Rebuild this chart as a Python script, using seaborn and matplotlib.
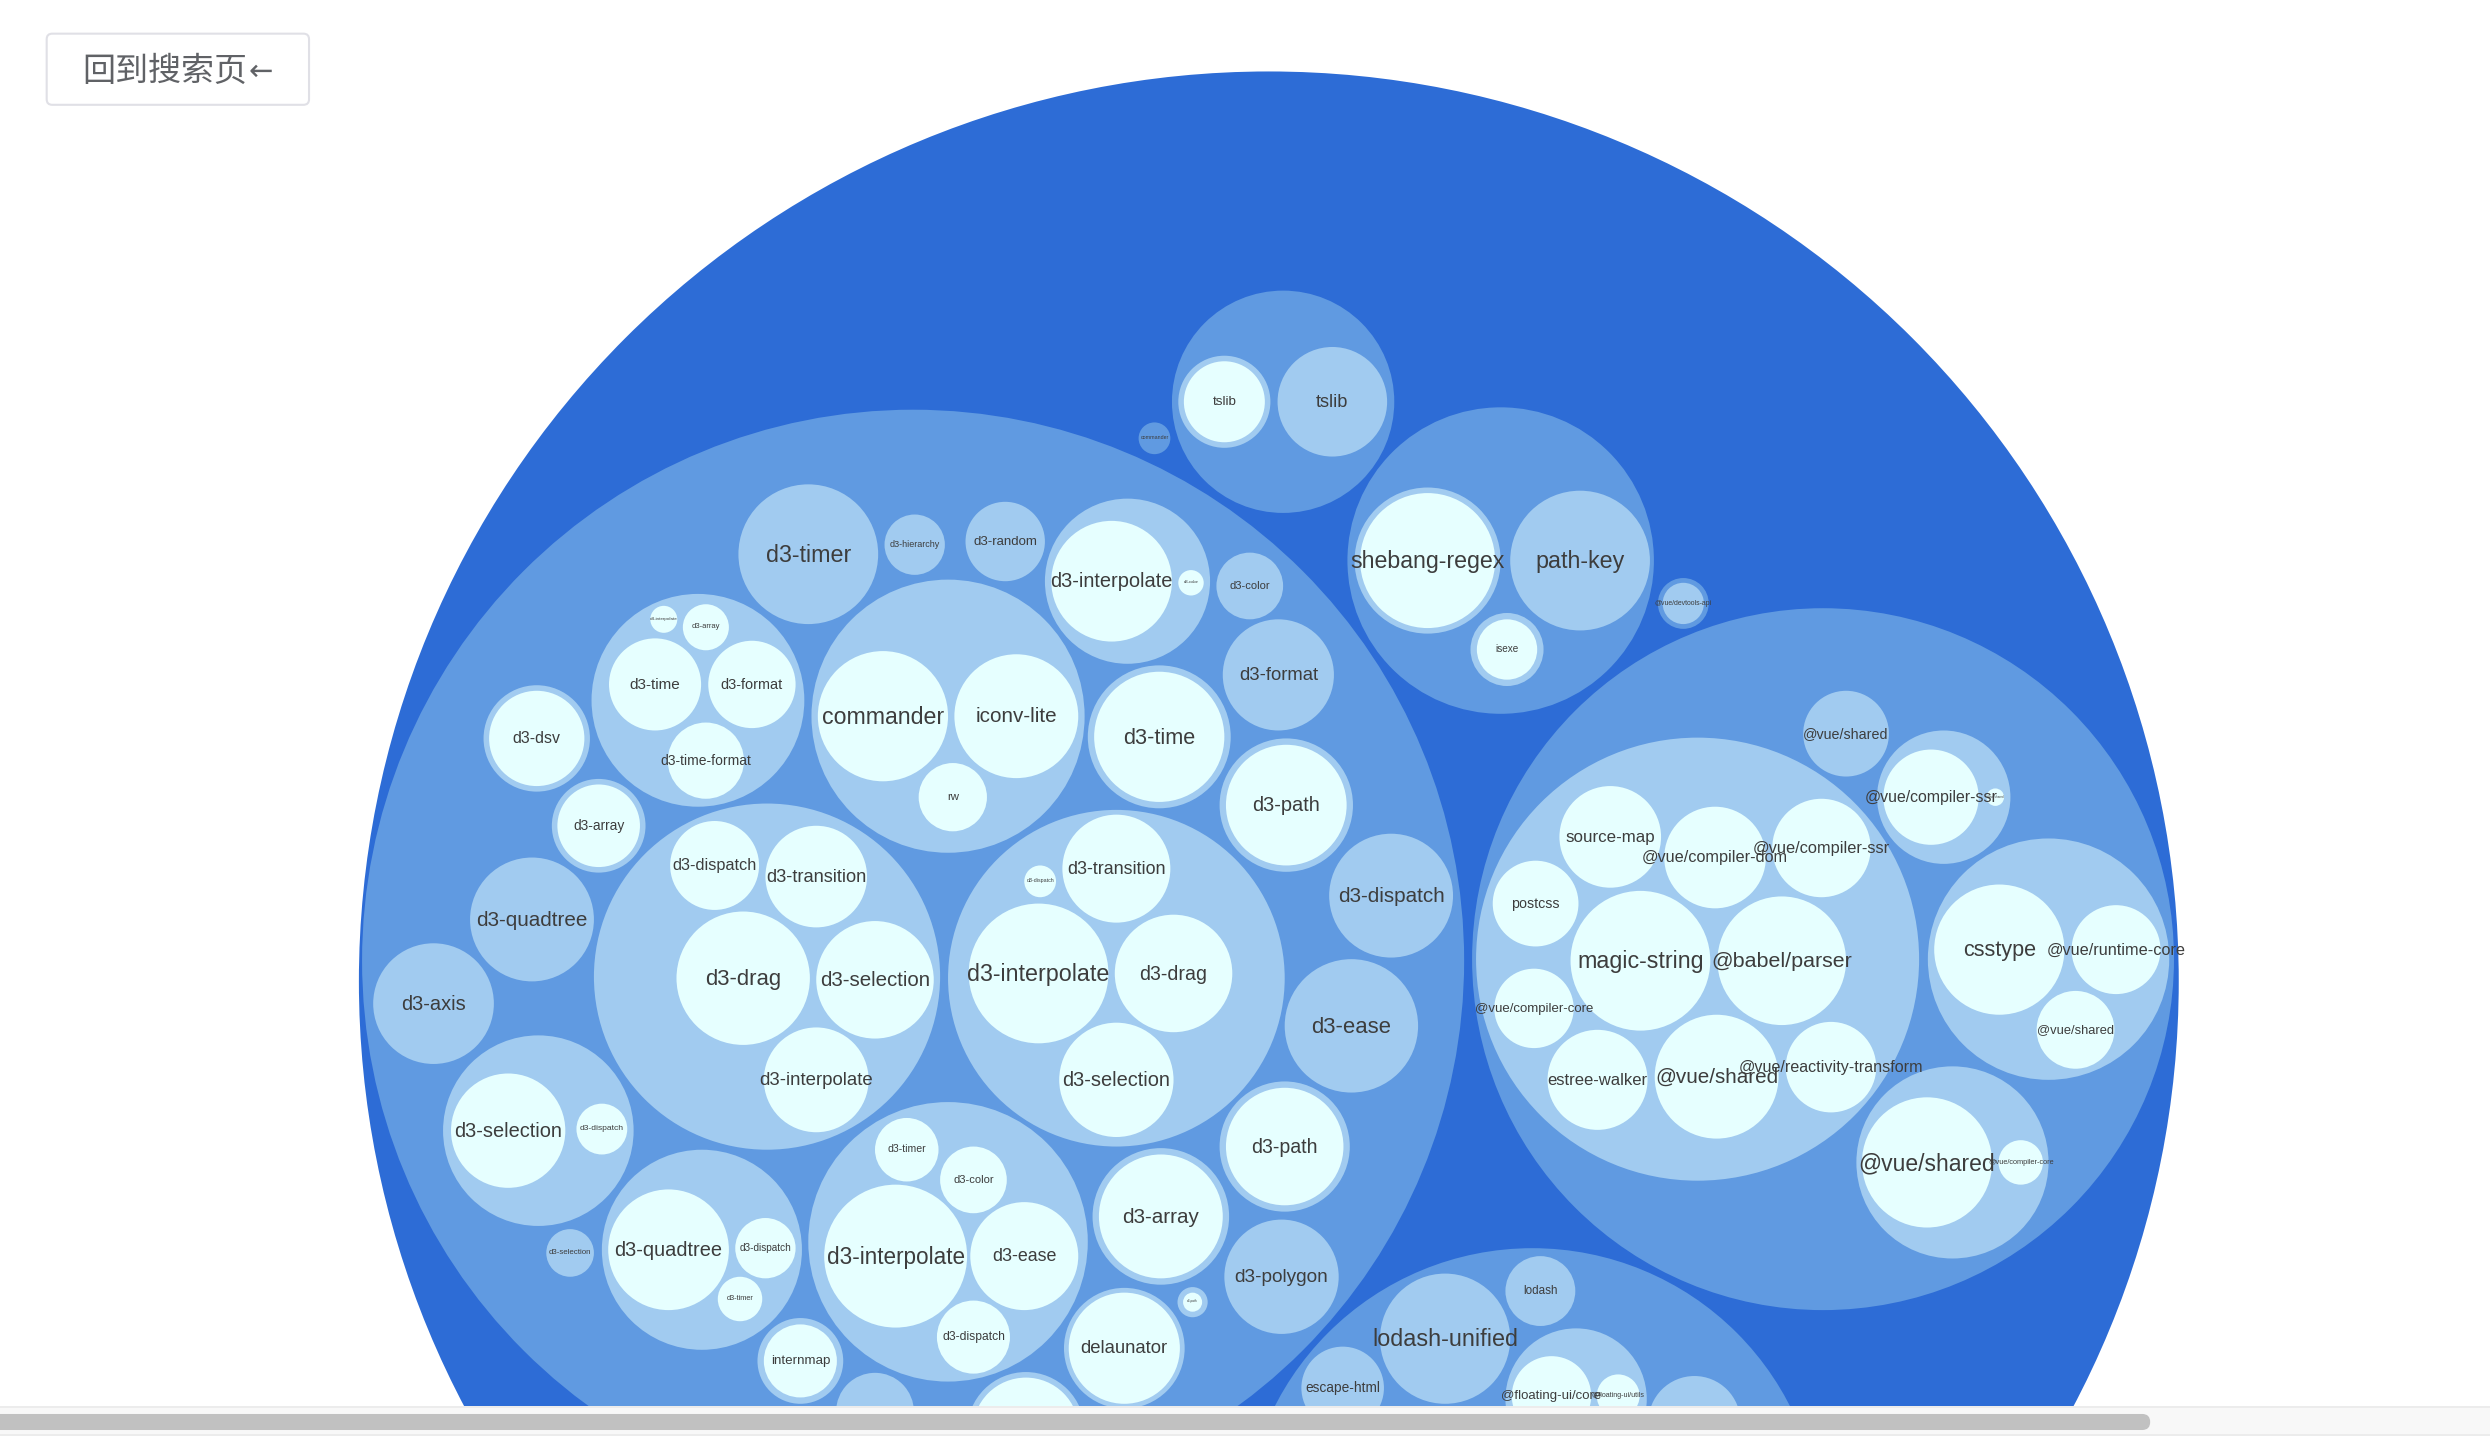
import pandas as pd
import matplotlib.pyplot as plt
from matplotlib.patches import FancyBboxPatch, Rectangle
import seaborn as sns

# reference pixels per unit of the coordinates below
PX = 2490 / 1568
W, H = 1568, 1436 / PX

sns.set_theme(style="white")
plt.rcParams['font.family'] = ['Liberation Sans', 'DejaVu Sans']

# ----- circle pack nodes ----- #
# an empty name is a circle with no label of its own
node_names = [
    "",
    "", "", "", "", "", "",
    "tslib", "", "tslib",
    "shebang-regex", "", "path-key", "isexe", "",
    "@vue/devtools-api",
    "d3-timer", "d3-hierarchy", "d3-random", "", "d3-interpolate", "d3-color",
    "d3-color", "d3-format", "d3-time", "", "d3-path", "",
    "d3-dispatch", "d3-ease", "d3-path", "", "d3-polygon", "d3-array", "",
    "d3-path", "", "delaunator", "", "", "", "internmap", "", "d3-shape",
    "", "d3-interpolate", "d3-ease", "d3-timer", "d3-color", "d3-dispatch",
    "", "d3-quadtree", "d3-dispatch", "d3-timer",
    "d3-selection",
    "", "d3-selection", "d3-dispatch",
    "d3-axis", "d3-quadtree", "d3-array", "", "d3-dsv", "",
    "", "d3-interpolate", "d3-array", "d3-time", "d3-format", "d3-time-format",
    "", "commander", "iconv-lite", "rw",
    "", "d3-drag", "d3-selection", "d3-dispatch", "d3-transition", "d3-interpolate",
    "", "d3-interpolate", "d3-drag", "d3-transition", "d3-selection", "d3-dispatch",
    "", "magic-string", "@babel/parser", "source-map", "@vue/compiler-dom",
    "@vue/compiler-ssr", "postcss", "@vue/compiler-core", "estree-walker",
    "@vue/shared", "@vue/reactivity-transform",
    "", "csstype", "@vue/runtime-core", "@vue/shared",
    "", "@vue/shared", "@vue/compiler-core",
    "", "@vue/compiler-ssr", "@vue/shared", "@vue/shared",
    "lodash-unified", "lodash", "escape-html", "", "@floating-ui/core",
    "@floating-ui/utils", "",
    "commander",
]
node_x = [
    799,
    575, 808, 945, 1148, 965, 1060,
    771, 771, 839,
    899, 899, 995, 949, 949,
    1060,
    509, 576, 633, 710, 700, 750,
    787, 805, 730, 730, 810, 810,
    876, 851, 809, 809, 807, 731, 731,
    751, 751, 708, 708, 646, 646, 504, 504, 551,
    597, 564, 645, 571, 613, 613,
    442, 421, 482, 466,
    359,
    339, 320, 379,
    273, 335, 377, 377, 338, 338,
    439.5, 418, 444.5, 412.5, 473.5, 444.5,
    597, 556, 640, 600,
    483, 468, 551, 450, 514, 514,
    703, 654, 739, 703, 703, 655,
    1069, 1033, 1122, 1014, 1080,
    1147, 967, 966, 1006,
    1081, 1153,
    1290, 1259, 1332.5, 1307,
    1229.5, 1213.5, 1272.5,
    1224, 1216, 1256.5, 1162.5,
    910, 970, 845.5, 992.5, 977,
    1019, 1067,
    727,
]
node_y = [
    618,
    605, 253, 353, 604, 968, 380,
    253, 253, 253,
    353, 353, 353, 409, 409,
    380,
    349, 343, 341, 366, 366, 367,
    369, 425, 464, 464, 507, 507,
    564, 646, 722, 722, 804, 766, 766,
    820, 820, 849, 849, 901, 901, 857, 857, 889,
    782, 791, 791, 724, 743, 842,
    787, 787, 786, 818,
    789,
    712, 712, 711,
    632, 579, 520, 520, 465, 465,
    441, 390, 395, 431, 431, 479,
    451, 451, 451, 502,
    615, 616, 617, 545, 552, 680,
    616, 613, 613, 547, 680, 555,
    604, 605, 605, 527, 540,
    534, 569, 635, 680,
    678, 672,
    604, 598, 598, 648.5,
    732, 732, 732,
    502, 502, 502, 462,
    843, 813, 874, 881, 879,
    879, 895.5,
    276,
]
node_r = [
    573,
    347, 70, 96.5, 221, 182, 16,
    25.5, 29, 34.5,
    42.5, 46, 44, 19, 23,
    13,
    44, 19, 25, 52, 38, 8,
    21, 35, 41, 45, 38, 42,
    39, 42, 37, 41, 36, 39, 43,
    6, 9.5, 35, 38, 33.5, 37, 23, 27, 24.5,
    88, 45, 34, 20, 21, 23,
    63, 38, 19, 14,
    15,
    60, 36, 16,
    38, 39, 26, 29.5, 30, 33.5,
    67, 8.5, 14.5, 29, 27.5, 24,
    86, 41, 39, 21.5,
    109, 42, 37, 28, 32, 33,
    106, 44, 37, 34, 36, 10,
    139.5, 44, 40.5, 32, 32,
    31, 27, 25, 31.5,
    39, 28.5,
    76, 41, 28, 24.5,
    60.5, 41, 14,
    42, 30, 5.5, 27,
    41, 22, 26, 44.5, 25,
    13.5, 29,
    10,
]
node_depth = [
    0,
    1, 1, 1, 1, 1, 1,
    3, 2, 2,
    3, 2, 2, 3, 2,
    2,
    2, 2, 2, 2, 3, 3,
    2, 2, 3, 2, 3, 2,
    2, 2, 3, 2, 2, 3, 2,
    3, 2, 3, 2, 3, 2, 3, 2, 2,
    2, 3, 3, 3, 3, 3,
    2, 3, 3, 3,
    2,
    2, 3, 3,
    2, 2, 3, 2, 3, 2,
    2, 3, 3, 3, 3, 3,
    2, 3, 3, 3,
    2, 3, 3, 3, 3, 3,
    2, 3, 3, 3, 3, 3,
    2, 3, 3, 3, 3,
    3, 3, 3, 3,
    3, 3,
    2, 3, 3, 3,
    2, 3, 3,
    2, 3, 3, 2,
    2, 2, 2, 2, 3,
    3, 2,
    1,
]

depth_colors = {0: "#2d6cd6", 1: "#609ae1", 2: "#a1cbf0", 3: "#e6ffff"}

# labels that come out a bit off the usual size for their radius
label_tweak = {("commander", 41): 1.07, ("@vue/shared", 41): 1.06,
               ("lodash-unified", 41): 1.08, ("d3-interpolate", 45): 0.95,
               ("shebang-regex", 42.5): 1.03, ("@vue/reactivity-transform", 28.5): 1.07,
               ("@vue/compiler-dom", 32): 0.96, ("@vue/runtime-core", 28): 1.1,
               ("d3-time-format", 24): 1.1, ("d3-dispatch", 28): 1.1,
               ("d3-transition", 32): 1.08, ("d3-interpolate", 33): 1.07,
               ("d3-selection", 37): 1.05, ("d3-selection", 36): 1.05,
               ("d3-hierarchy", 19): 0.9, ("internmap", 23): 1.1}

df = pd.DataFrame({"name": node_names, "x": node_x, "y": node_y,
                   "r": node_r, "depth": node_depth})
df = df.sort_values("depth", kind="mergesort").reset_index(drop=True)

fig = plt.figure(figsize=(24.9, 14.36), dpi=100)
ax = fig.add_axes([0, 0, 1, 1])

# marker area is in points^2, radius is in picture units
marker_area = (2 * df["r"] * PX * 72 / fig.dpi) ** 2
sns.scatterplot(data=df, x="x", y="y", hue="depth", palette=depth_colors,
                s=marker_area.values, linewidth=0, edgecolor="none",
                legend=False, ax=ax)

ax.set_xlim(0, W)
ax.set_ylim(H, 0)
ax.set_axis_off()

for row in df[df["name"] != ""].itertuples():
    size = 0.38 * row.r * label_tweak.get((row.name, row.r), 1)
    ax.text(row.x, row.y - 0.8, row.name, ha="center", va="center_baseline",
            fontsize=size, color="#3d3d3d", zorder=5)

# page below the chart: scrollbar track and thumb
ax.add_patch(Rectangle((0, 885.4), W, H - 885.4, fc="#f8f8f8", ec="none", zorder=10))
ax.add_patch(Rectangle((0, 885.4), W, 1.3, fc="#ececec", ec="none", zorder=11))
ax.add_patch(Rectangle((0, H - 1.3), W, 1.3, fc="#ececec", ec="none", zorder=11))
ax.add_patch(FancyBboxPatch((-10, 890.4), 1364, 10.1,
                            boxstyle="round,pad=0,rounding_size=5",
                            fc="#c1c1c1", ec="none", zorder=12))

# back button
ax.add_patch(FancyBboxPatch((29.4, 21.2), 165.2, 44.8,
                            boxstyle="round,pad=0,rounding_size=3.5",
                            fc="white", ec="#e0e0e6", lw=1.5, zorder=12))
ax.text(51.5, 44.8, "回到搜索页", ha="left", va="center",
        fontsize=23.8, color="#606266", zorder=13,
        family=["Noto Sans CJK SC", "DejaVu Sans"])
ax.text(164.5, 45, "←", ha="center", va="center",
        fontsize=21, color="#606266", zorder=13,
        family=["DejaVu Sans"])

plt.savefig("out.png", dpi=100)
